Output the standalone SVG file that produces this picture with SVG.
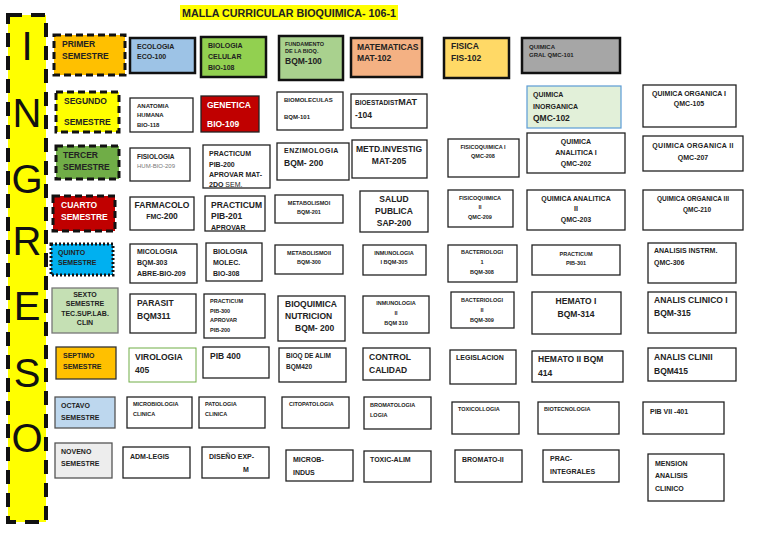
<svg xmlns="http://www.w3.org/2000/svg" width="768" height="543" viewBox="0 0 768 543">
<style>
text{font-family:"Liberation Sans",Arial,sans-serif;font-weight:bold;fill:#222}
.b{fill:#fff;stroke:#222;stroke-width:1.3}
.k{stroke:#111;stroke-width:2.5}
.d{stroke:#111;stroke-width:3;stroke-dasharray:7,4}
.s{font-size:7px}
.m{font-size:8.5px}
.l{font-size:10px}
.big{font-size:40px;font-weight:normal;fill:#111}
</style>
<rect width="768" height="543" fill="#fff"/>
<g id="title"><rect x="180" y="5" width="218" height="15" fill="#ffff00"/><text x="182" y="17" font-size="11.5" textLength="214" lengthAdjust="spacingAndGlyphs">MALLA CURRICULAR BIOQUIMICA- 106-1</text></g>
<g id="ingreso">
<rect x="8" y="15" width="38" height="507" fill="#ffff00"/>
<rect x="8" y="15" width="38" height="507" fill="none" stroke="#111" stroke-width="4" stroke-dasharray="14,9"/>
<text class="big" x="27" y="60" text-anchor="middle">I</text>
<text class="big" x="27" y="127" text-anchor="middle">N</text>
<text class="big" x="27" y="193" text-anchor="middle">G</text>
<text class="big" x="27" y="255" text-anchor="middle">R</text>
<text class="big" x="27" y="320" text-anchor="middle">E</text>
<text class="big" x="27" y="387" text-anchor="middle">S</text>
<text class="big" x="27" y="452" text-anchor="middle">O</text>
</g>
<g id="s1"><rect x="54" y="35" width="71" height="40" fill="#ffc000" class="d"/><text class="m" x="62" y="47">PRIMER</text><text class="m" x="62" y="59">SEMESTRE</text></g>
<g id="s2"><rect x="56" y="92" width="63" height="40" fill="#ffff00" class="d"/><text class="m" x="64" y="104">SEGUNDO</text><text class="m" x="64" y="125">SEMESTRE</text></g>
<g id="s3"><rect x="56" y="146" width="63" height="33" fill="#70ad47" class="d"/><text class="m" x="63" y="158">TERCER</text><text class="m" x="63" y="170">SEMESTRE</text></g>
<g id="s4"><rect x="53" y="196" width="62" height="35" fill="#c00000" class="d"/><text class="m" x="61" y="208" style="fill:#fff">CUARTO</text><text class="m" x="61" y="220" style="fill:#fff">SEMESTRE</text></g>
<g id="s5"><rect x="51" y="244" width="62" height="31" fill="#00b0f0" stroke="#111" stroke-width="3" stroke-dasharray="2,2"/><text class="s" x="58" y="255">QUINTO</text><text class="s" x="58" y="265">SEMESTRE</text></g>
<g id="s6"><rect x="52" y="288" width="66" height="45" fill="#c5e0b4" stroke="#777" stroke-width="1.3"/><text class="s" x="85" y="297" text-anchor="middle">SEXTO</text><text class="s" x="85" y="306" text-anchor="middle">SEMESTRE</text><text class="s" x="85" y="316" text-anchor="middle">TEC.SUP.LAB.</text><text class="s" x="85" y="325" text-anchor="middle">CLIN</text></g>
<g id="s7"><rect x="56" y="347" width="60" height="32" fill="#ffc000" stroke="#333" stroke-width="1.3"/><text class="s" x="63" y="358">SEPTIMO</text><text class="s" x="63" y="369">SEMESTRE</text></g>
<g id="s8"><rect x="55" y="397" width="60" height="31" fill="#bdd7ee" stroke="#555" stroke-width="1.3"/><text class="s" x="61" y="408">OCTAVO</text><text class="s" x="61" y="420">SEMESTRE</text></g>
<g id="s9"><rect x="55" y="443" width="57" height="35" fill="#ededed" stroke="#555" stroke-width="1.3"/><text class="s" x="61" y="454">NOVENO</text><text class="s" x="61" y="466">SEMESTRE</text></g>
<g id="eco"><rect x="130" y="38" width="65" height="35" fill="#9dc3e6" class="k"/><text class="s" x="137" y="49">ECOLOGIA</text><text class="s" x="137" y="59">ECO-100</text></g>
<g id="bio108"><rect x="201" y="37" width="65" height="40" fill="#92d050" class="k"/><text class="s" x="208" y="48">BIOLOGIA</text><text class="s" x="208" y="59">CELULAR</text><text class="s" x="208" y="70">BIO-108</text></g>
<g id="bqm100"><rect x="279" y="36" width="64" height="44" fill="#a9d18e" class="k"/><text x="285" y="46" font-size="5.5">FUNDAMENTO</text><text x="285" y="53" font-size="5.5">DE LA BIOQ.</text><text class="m" x="285" y="64">BQM-100</text></g>
<g id="mat102"><rect x="351" y="38" width="71" height="39" fill="#f4b183" class="k"/><text class="m" x="357" y="50">MATEMATICAS</text><text class="m" x="357" y="61">MAT-102</text></g>
<g id="fis102"><rect x="444" y="38" width="65" height="40" fill="#ffd966" class="k"/><text class="m" x="451" y="49">FISICA</text><text class="m" x="451" y="61">FIS-102</text></g>
<g id="qmc101"><rect x="522" y="38" width="98" height="35" fill="#a6a6a6" class="k"/><text x="529" y="49" font-size="6">QUIMICA</text><text x="529" y="57" font-size="6">GRAL QMC-101</text></g>
<g id="bio118"><rect x="130" y="98" width="63" height="34" class="b"/><text x="137" y="108" font-size="6">ANATOMIA</text><text x="137" y="117" font-size="6">HUMANA</text><text x="137" y="127" font-size="6">BIO-118</text></g>
<g id="bio109"><rect x="201" y="96" width="58" height="36" fill="#c00000" stroke="#222" stroke-width="1.3"/><text class="m" x="207" y="108" style="fill:#fff">GENETICA</text><text class="m" x="207" y="127" style="fill:#fff">BIO-109</text></g>
<g id="bqm101"><rect x="277" y="92" width="66" height="38" class="b"/><text x="284" y="102" font-size="6">BIOMOLECULAS</text><text x="284" y="119" font-size="6">BQM-101</text></g>
<g id="mat104"><rect x="351" y="94" width="76" height="34" class="b"/><text x="355" y="105" font-size="6.5">BIOESTADIST<tspan font-size="9">MAT</tspan></text><text class="m" x="355" y="118">-104</text></g>
<g id="qmc102"><rect x="527" y="86" width="94" height="42" fill="#e2f0d9" stroke="#5b9bd5" stroke-width="1.2"/><text class="s" x="533" y="97">QUIMICA</text><text class="s" x="533" y="109">INORGANICA</text><text class="m" x="533" y="121">QMC-102</text></g>
<g id="qmc105"><rect x="643" y="85" width="93" height="42" class="b"/><text class="s" x="689" y="96" text-anchor="middle">QUIMICA ORGANICA I</text><text class="s" x="689" y="106" text-anchor="middle">QMC-105</text></g>
<g id="hum209"><rect x="130" y="148" width="60" height="33" class="b"/><text x="137" y="159" font-size="6.5" font-weight="normal">FISIOLOGIA</text><text x="137" y="168" font-size="6" style="font-weight:normal;fill:#777">HUM-BIO-209</text></g>
<g id="pib200"><rect x="203" y="145" width="67" height="43" class="b"/><text class="s" x="209" y="156">PRACTICUM</text><text class="s" x="209" y="167">PIB-200</text><text class="s" x="209" y="177">APROVAR MAT-</text><text class="s" x="209" y="187">2DO <tspan font-weight="normal">SEM.</tspan></text></g>
<g id="bqm200"><rect x="277" y="143" width="72" height="37" class="b"/><text x="284" y="153" font-size="7" font-weight="normal" letter-spacing="0.5">ENZIMOLOGIA</text><text class="m" x="284" y="166">BQM- 200</text></g>
<g id="mat205"><rect x="352" y="140" width="75" height="38" class="b"/><text class="m" x="389" y="152" text-anchor="middle">METD.INVESTIG</text><text class="m" x="389" y="164" text-anchor="middle">MAT-205</text></g>
<g id="qmc208"><rect x="448" y="139" width="71" height="38" class="b"/><text x="483" y="149" font-size="5.5" text-anchor="middle">FISICOQUIMICA I</text><text x="483" y="158" font-size="5.5" text-anchor="middle">QMC-208</text></g>
<g id="qmc202"><rect x="527" y="133" width="98" height="40" class="b"/><text class="s" x="576" y="144" text-anchor="middle">QUIMICA</text><text class="s" x="576" y="155" text-anchor="middle">ANALITICA I</text><text class="s" x="576" y="166" text-anchor="middle">QMC-202</text></g>
<g id="qmc207"><rect x="643" y="136" width="100" height="35" class="b"/><text class="s" x="693" y="148" text-anchor="middle" letter-spacing="0.3">QUIMICA ORGANICA II</text><text class="s" x="693" y="160" text-anchor="middle">QMC-207</text></g>
<g id="fmc200"><rect x="130" y="197" width="64" height="33" class="b"/><text class="m" x="162" y="208" text-anchor="middle">FARMACOLO</text><text x="162" y="219" font-size="7" text-anchor="middle">FMC-<tspan font-size="8.5">200</tspan></text></g>
<g id="pib201"><rect x="205" y="196" width="60" height="35" class="b"/><text class="m" x="211" y="208">PRACTICUM</text><text class="m" x="211" y="219">PIB-201</text><text class="s" x="211" y="230">APROVAR</text></g>
<g id="bqm201"><rect x="275" y="195" width="68" height="28" class="b"/><text x="309" y="205" font-size="5.5" text-anchor="middle">METABOLISMOI</text><text x="309" y="214" font-size="5.5" text-anchor="middle">BQM-201</text></g>
<g id="sap200"><rect x="360" y="191" width="68" height="41" class="b"/><text class="m" x="394" y="202" text-anchor="middle">SALUD</text><text class="m" x="394" y="214" text-anchor="middle">PUBLICA</text><text class="m" x="394" y="226" text-anchor="middle">SAP-200</text></g>
<g id="qmc209"><rect x="448" y="190" width="65" height="37" class="b"/><text x="480" y="200" font-size="5.5" text-anchor="middle">FISICOQUIMICA</text><text x="480" y="209" font-size="5.5" text-anchor="middle">II</text><text x="480" y="219" font-size="5.5" text-anchor="middle">QMC-209</text></g>
<g id="qmc203"><rect x="527" y="190" width="98" height="40" class="b"/><text class="s" x="576" y="201" text-anchor="middle">QUIMICA ANALITICA</text><text class="s" x="576" y="211" text-anchor="middle">II</text><text class="s" x="576" y="222" text-anchor="middle">QMC-203</text></g>
<g id="qmc210"><rect x="643" y="190" width="100" height="40" class="b"/><text x="693" y="201" font-size="6.5" font-weight="normal" text-anchor="middle">QUIMICA ORGANICA III</text><text x="697" y="212" font-size="6.5" font-weight="normal" text-anchor="middle">QMC-210</text></g>
<g id="bqm303"><rect x="130" y="244" width="67" height="39" class="b"/><text class="s" x="137" y="254">MICOLOGIA</text><text class="s" x="137" y="265">BQM-303</text><text class="s" x="137" y="276">ABRE-BIO-209</text></g>
<g id="bio308"><rect x="206" y="243" width="56" height="38" class="b"/><text class="s" x="213" y="254">BIOLOGIA</text><text class="s" x="213" y="265">MOLEC.</text><text class="s" x="213" y="276">BIO-308</text></g>
<g id="bqm300"><rect x="275" y="245" width="68" height="29" class="b"/><text x="309" y="255" font-size="5.5" text-anchor="middle">METABOLISMOII</text><text x="309" y="264" font-size="5.5" text-anchor="middle">BQM-300</text></g>
<g id="bqm305"><rect x="363" y="245" width="63" height="30" class="b"/><text x="394" y="255" font-size="5.5" text-anchor="middle">INMUNOLOGIA</text><text x="394" y="264" font-size="5.5" text-anchor="middle">I BQM-305</text></g>
<g id="bqm308"><rect x="448" y="245" width="69" height="37" class="b"/><text x="482" y="254" font-size="5.5" text-anchor="middle">BACTERIOLOGI</text><text x="482" y="264" font-size="5.5" text-anchor="middle">1</text><text x="482" y="274" font-size="5.5" text-anchor="middle">BQM-308</text></g>
<g id="pib301"><rect x="532" y="245" width="88" height="30" class="b"/><text x="576" y="256" font-size="5.5" text-anchor="middle">PRACTICUM</text><text x="576" y="265" font-size="5.5" text-anchor="middle">PIB-301</text></g>
<g id="qmc306"><rect x="648" y="243" width="88" height="40" class="b"/><text class="s" x="654" y="253">ANALISIS INSTRM.</text><text class="s" x="654" y="265">QMC-306</text></g>
<g id="bqm311"><rect x="130" y="294" width="66" height="39" class="b"/><text class="m" x="137" y="306">PARASIT</text><text class="m" x="137" y="319">BQM311</text></g>
<g id="pib300"><rect x="204" y="294" width="61" height="44" class="b"/><text x="210" y="303" font-size="5.5">PRACTICUM</text><text x="210" y="313" font-size="5.5">PIB-300</text><text x="210" y="322" font-size="5.5">APROVAR</text><text x="210" y="332" font-size="5.5">PIB-200</text></g>
<g id="bqm200n"><rect x="278" y="296" width="67" height="45" class="b"/><text class="m" x="285" y="307">BIOQUIMICA</text><text class="m" x="285" y="319">NUTRICION</text><text class="m" x="295" y="331">BQM- 200</text></g>
<g id="bqm310"><rect x="363" y="296" width="66" height="37" class="b"/><text x="396" y="305" font-size="5.5" text-anchor="middle">INMUNOLOGIA</text><text x="396" y="315" font-size="5.5" text-anchor="middle">II</text><text x="396" y="325" font-size="5.5" text-anchor="middle">BQM 310</text></g>
<g id="bqm309"><rect x="451" y="292" width="63" height="36" class="b"/><text x="482" y="302" font-size="5.5" text-anchor="middle">BACTERIOLOGI</text><text x="482" y="312" font-size="5.5" text-anchor="middle">II</text><text x="482" y="322" font-size="5.5" text-anchor="middle">BQM-309</text></g>
<g id="bqm314"><rect x="532" y="292" width="89" height="42" class="b"/><text class="m" x="576" y="304" text-anchor="middle">HEMATO I</text><text class="m" x="576" y="317" text-anchor="middle">BQM-314</text></g>
<g id="bqm315"><rect x="648" y="292" width="88" height="41" class="b"/><text class="m" x="654" y="303">ANALIS CLINICO  I</text><text class="m" x="654" y="316">BQM-315</text></g>
<g id="vir405"><rect x="129" y="348" width="67" height="34" fill="#fff" stroke="#70ad47" stroke-width="1"/><text class="m" x="135" y="360">VIROLOGIA</text><text class="m" x="135" y="373">405</text></g>
<g id="pib400"><rect x="203" y="347" width="66" height="31" class="b"/><text class="m" x="210" y="359">PIB 400</text></g>
<g id="bqm420"><rect x="279" y="348" width="67" height="34" class="b"/><text x="286" y="358" font-size="6.5" font-weight="normal">BIOQ DE ALIM</text><text x="286" y="369" font-size="6.5" font-weight="normal">BQM420</text></g>
<g id="control"><rect x="363" y="348" width="67" height="32" class="b"/><text class="m" x="369" y="360">CONTROL</text><text class="m" x="369" y="373">CALIDAD</text></g>
<g id="legis"><rect x="450" y="350" width="66" height="34" class="b"/><text class="s" x="456" y="360">LEGISLACION</text></g>
<g id="bqm414"><rect x="532" y="351" width="91" height="31" class="b"/><text class="m" x="538" y="362">HEMATO II BQM</text><text class="m" x="538" y="376">414</text></g>
<g id="bqm415"><rect x="648" y="348" width="88" height="33" class="b"/><text class="m" x="654" y="360">ANALIS CLINII</text><text class="m" x="654" y="374">BQM415</text></g>
<g id="microcl"><rect x="127" y="397" width="65" height="31" class="b"/><text x="133" y="406" font-size="5.5">MICROBIOLOGIA</text><text x="133" y="416" font-size="5.5">CLINICA</text></g>
<g id="patocl"><rect x="199" y="397" width="66" height="31" class="b"/><text x="205" y="406" font-size="5.5">PATOLOGIA</text><text x="205" y="416" font-size="5.5">CLINICA</text></g>
<g id="cito"><rect x="282" y="397" width="67" height="31" class="b"/><text x="289" y="406" font-size="5.5">CITOPATOLOGIA</text></g>
<g id="broma"><rect x="364" y="397" width="67" height="32" class="b"/><text x="370" y="407" font-size="5.5">BROMATOLOGIA</text><text x="370" y="417" font-size="5.5">LOGIA</text></g>
<g id="toxic"><rect x="452" y="402" width="67" height="32" class="b"/><text x="458" y="411" font-size="5.5">TOXICOLLOGIA</text></g>
<g id="biotec"><rect x="538" y="402" width="81" height="32" class="b"/><text x="544" y="411" font-size="5.5">BIOTECNOLOGIA</text></g>
<g id="pib401"><rect x="643" y="402" width="81" height="32" class="b"/><text class="s" x="650" y="414">PIB VII -401</text></g>
<g id="adm"><rect x="123" y="447" width="67" height="31" class="b"/><text class="s" x="130" y="459">ADM-LEGIS</text></g>
<g id="diseno"><rect x="202" y="447" width="67" height="31" class="b"/><text class="s" x="209" y="459">DISEÑO EXP-</text><text class="s" x="243" y="472">M</text></g>
<g id="microb"><rect x="286" y="450" width="67" height="31" class="b"/><text class="s" x="293" y="462">MICROB-</text><text class="s" x="293" y="475">INDUS</text></g>
<g id="toxalim"><rect x="364" y="451" width="67" height="31" class="b"/><text class="s" x="370" y="462">TOXIC-ALIM</text></g>
<g id="broma2"><rect x="455" y="450" width="67" height="32" class="b"/><text class="s" x="462" y="462">BROMATO-II</text></g>
<g id="integ"><rect x="543" y="450" width="76" height="32" class="b"/><text class="s" x="550" y="461">PRAC-</text><text class="s" x="550" y="474">INTEGRALES</text></g>
<g id="mension"><rect x="648" y="454" width="76" height="47" class="b"/><text class="s" x="655" y="466">MENSION</text><text class="s" x="655" y="478">ANALISIS</text><text class="s" x="655" y="491">CLINICO</text></g>
<g id="connectors"/>
</svg>
